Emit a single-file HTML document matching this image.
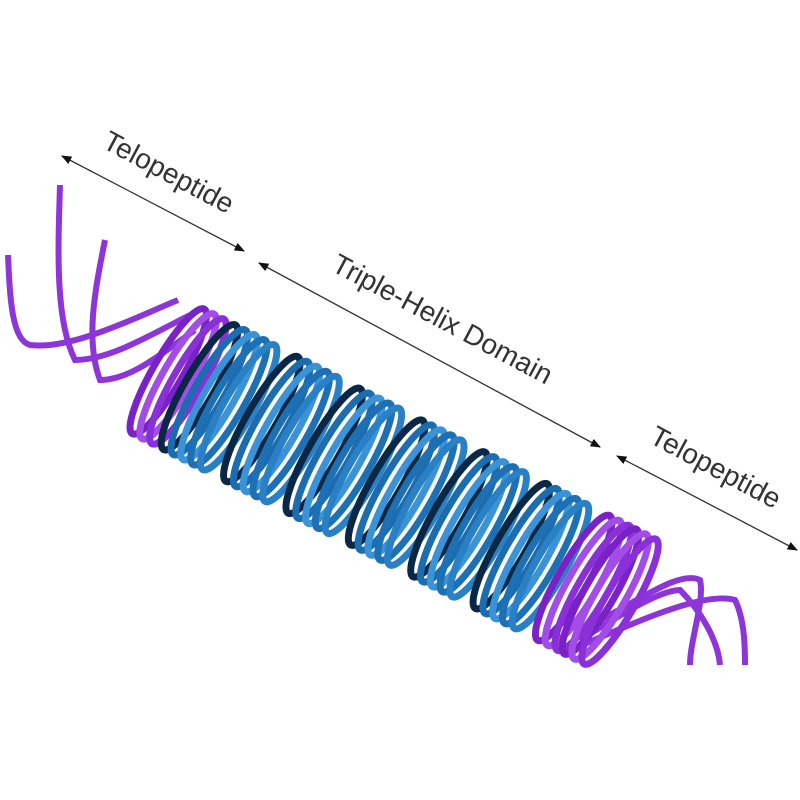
<!DOCTYPE html>
<html><head><meta charset="utf-8"><style>
html,body{margin:0;padding:0;background:#fff;}
svg{display:block}
text{font-family:"Liberation Sans",sans-serif;fill:#333;}
</style></head><body>
<svg width="800" height="800" viewBox="0 0 800 800">
<defs>
<marker id="ah" viewBox="0 0 10 10" refX="9" refY="5" markerWidth="8" markerHeight="8" orient="auto-start-reverse">
<path d="M0,1 L10,5 L0,9 z" fill="#111"/></marker>
<g id="bundle" fill="none" stroke-width="7">
<ellipse cx="0" cy="0" rx="15" ry="72" stroke="#0a2846" transform="rotate(3)"/>
<ellipse cx="11" cy="0" rx="15" ry="72" stroke="#1c6db0" transform="rotate(3 11 0)"/>
<ellipse cx="22" cy="0" rx="15" ry="72" stroke="#3a93d6" transform="rotate(3 22 0)"/>
<ellipse cx="33" cy="0" rx="15" ry="72" stroke="#1e70b4" transform="rotate(3 33 0)"/>
<ellipse cx="44" cy="0" rx="15" ry="72" stroke="#2a80c4" transform="rotate(3 44 0)"/>
</g>
<g id="pb" fill="none" stroke-width="7">
<ellipse cx="0" cy="0" rx="15" ry="72" stroke="#7a22c8" transform="rotate(3)"/>
<ellipse cx="11" cy="0" rx="15" ry="72" stroke="#a24ee6" transform="rotate(3 11 0)"/>
<ellipse cx="22" cy="0" rx="15" ry="72" stroke="#8a30d8" transform="rotate(3 22 0)"/>
</g>
</defs>

<g fill="none" stroke="#8e35da" stroke-width="6">
<path d="M8,255 C10,300 12,340 30,345 C70,350 130,320 178,300"/>
<path d="M60,185 C58,250 55,320 75,360 C110,360 150,335 190,315"/>
<path d="M105,240 C95,290 85,340 100,380 C130,380 160,355 195,330"/>
</g>
<g fill="none" stroke="#8e35da" stroke-width="6">
<path d="M600,620 C640,600 680,570 700,580 C705,600 690,640 690,665"/>
<path d="M580,640 C620,615 660,590 680,590 C700,610 718,640 720,665"/>
<path d="M570,650 C620,630 700,590 735,600 C745,620 745,650 745,665"/>
</g>

<g transform="translate(195,385) rotate(27)">
<use href="#pb" x="-30" y="0"/>
<use href="#bundle" x="5" y="0"/>
<use href="#bundle" x="75" y="0"/>
<use href="#bundle" x="145" y="0"/>
<use href="#bundle" x="215" y="0"/>
<use href="#bundle" x="285" y="0"/>
<use href="#bundle" x="355" y="0"/>
<use href="#pb" x="425" y="0"/>
<use href="#pb" x="455" y="0"/>
</g>

<g stroke="#333" stroke-width="1.3" fill="none">
<line x1="62" y1="156" x2="244" y2="251" marker-start="url(#ah)" marker-end="url(#ah)"/>
<line x1="259" y1="263" x2="600" y2="447" marker-start="url(#ah)" marker-end="url(#ah)"/>
<line x1="617" y1="456" x2="797" y2="550" marker-start="url(#ah)" marker-end="url(#ah)"/>
</g>
<text font-size="28" transform="translate(101,147) rotate(28)">Telopeptide</text>
<text font-size="28" transform="translate(330,270) rotate(28)">Triple-Helix Domain</text>
<text font-size="28" transform="translate(648,442) rotate(28)">Telopeptide</text>
</svg>
</body></html>
